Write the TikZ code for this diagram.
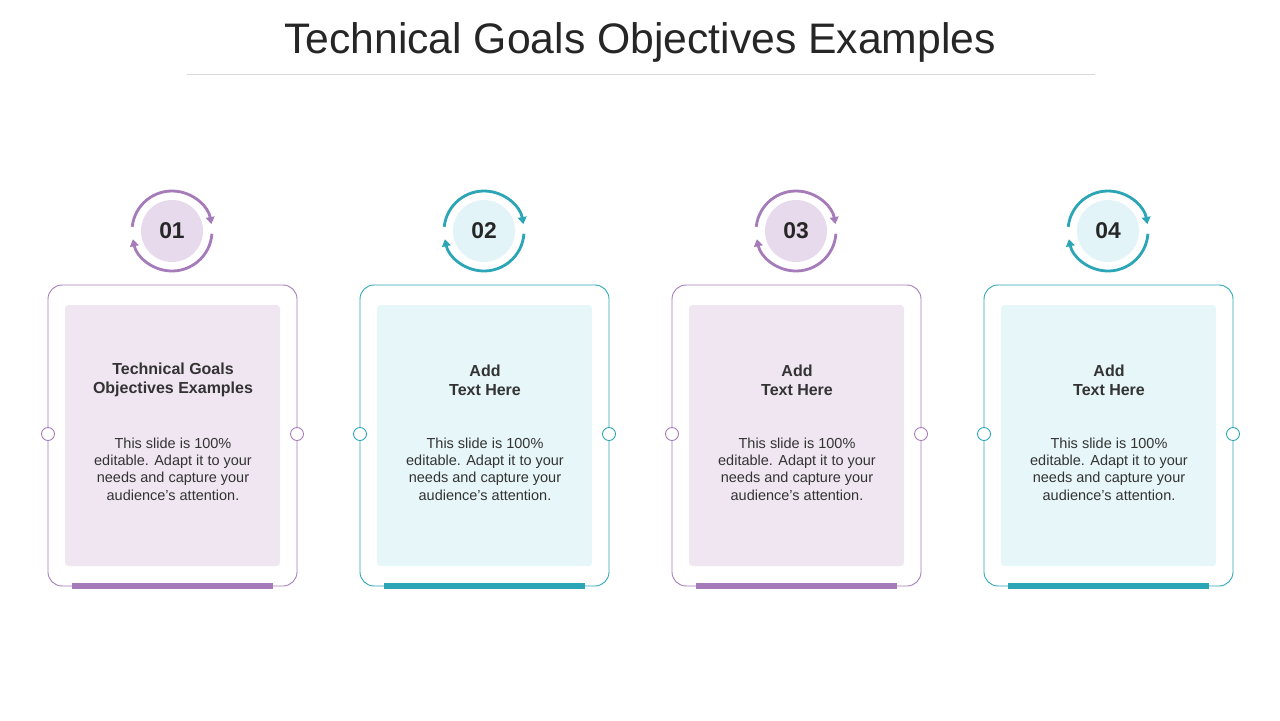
\documentclass[tikz,border=0pt]{standalone}
\usepackage{fontspec}
\setmainfont{Liberation Sans}
\usetikzlibrary{arrows.meta}
\definecolor{plum}{HTML}{A57BBA}
\definecolor{plumfill}{HTML}{F0E6F2}
\definecolor{plumdisc}{HTML}{E6DAEC}
\definecolor{tealline}{HTML}{2CA6B6}
\definecolor{tealfill}{HTML}{E6F6F9}
\definecolor{tealdisc}{HTML}{E3F4F8}
\tikzset{>={Triangle[length=4pt,width=5pt]}}
\tikzset{card/.style={rounded corners=8pt,line width=0.5pt},
  inner/.style={rounded corners=2pt},
  ring/.style={->,line width=1.6pt},
  heading/.style={font=\fontsize{9.1}{10.8}\selectfont\bfseries,text=black!80,align=center},
  body/.style={font=\fontsize{8.25}{9.9}\selectfont,text=black!80,align=center}}
\begin{document}
\begin{tikzpicture}[x=0.02cm,y=-0.02cm]
  \useasboundingbox[fill=white] (0,0) rectangle (1280,720);
  % TITLE
  \node[font=\fontsize{24.3}{28}\selectfont,text=black!85] (title) at (640,42) {Technical Goals Objectives Examples};
  \draw[black!15] (187,74) -- (1095,74);
  % CARDS
  \foreach \i/\cx/\col/\fil/\disc/\num/\head in {
      1/172/plum/plumfill/plumdisc/01/{Technical Goals\\Objectives Examples},
      2/484/tealline/tealfill/tealdisc/02/{Add\\Text Here},
      3/796/plum/plumfill/plumdisc/03/{Add\\Text Here},
      4/1108/tealline/tealfill/tealdisc/04/{Add\\Text Here}} {
    \draw[card,\col] (\cx-124,285) rectangle (\cx+125,586);
    \fill[inner,\fil] (\cx-107,305) rectangle (\cx+108,566);
    \draw[\col,line width=3pt] (\cx-100,586) -- (\cx+101,586);
    \draw[\col,fill=white,line width=0.5pt] (\cx-124,434) circle (6.5) (\cx+125,434) circle (6.5);
    % NUMBER RING
    \fill[\disc] (\cx,231) circle (31);
    \draw[ring,\col] (\cx,231) ++(4:40) arc[start angle=4,end angle=168,radius=40];
    \draw[ring,\col] (\cx,231) ++(186:40) arc[start angle=186,end angle=350,radius=40];
    \node[font=\fontsize{13}{15}\selectfont\bfseries,text=black!85] (num\i) at (\cx,231) {\num};
    % TEXT
    \node[heading] (head\i) at (\cx+1,380) {\head};
    \node[body] (body\i) at (\cx+1,469) {This slide is 100\%\\editable. Adapt it to your\\needs and capture your\\audience's attention.};
  }
\end{tikzpicture}
\end{document}
